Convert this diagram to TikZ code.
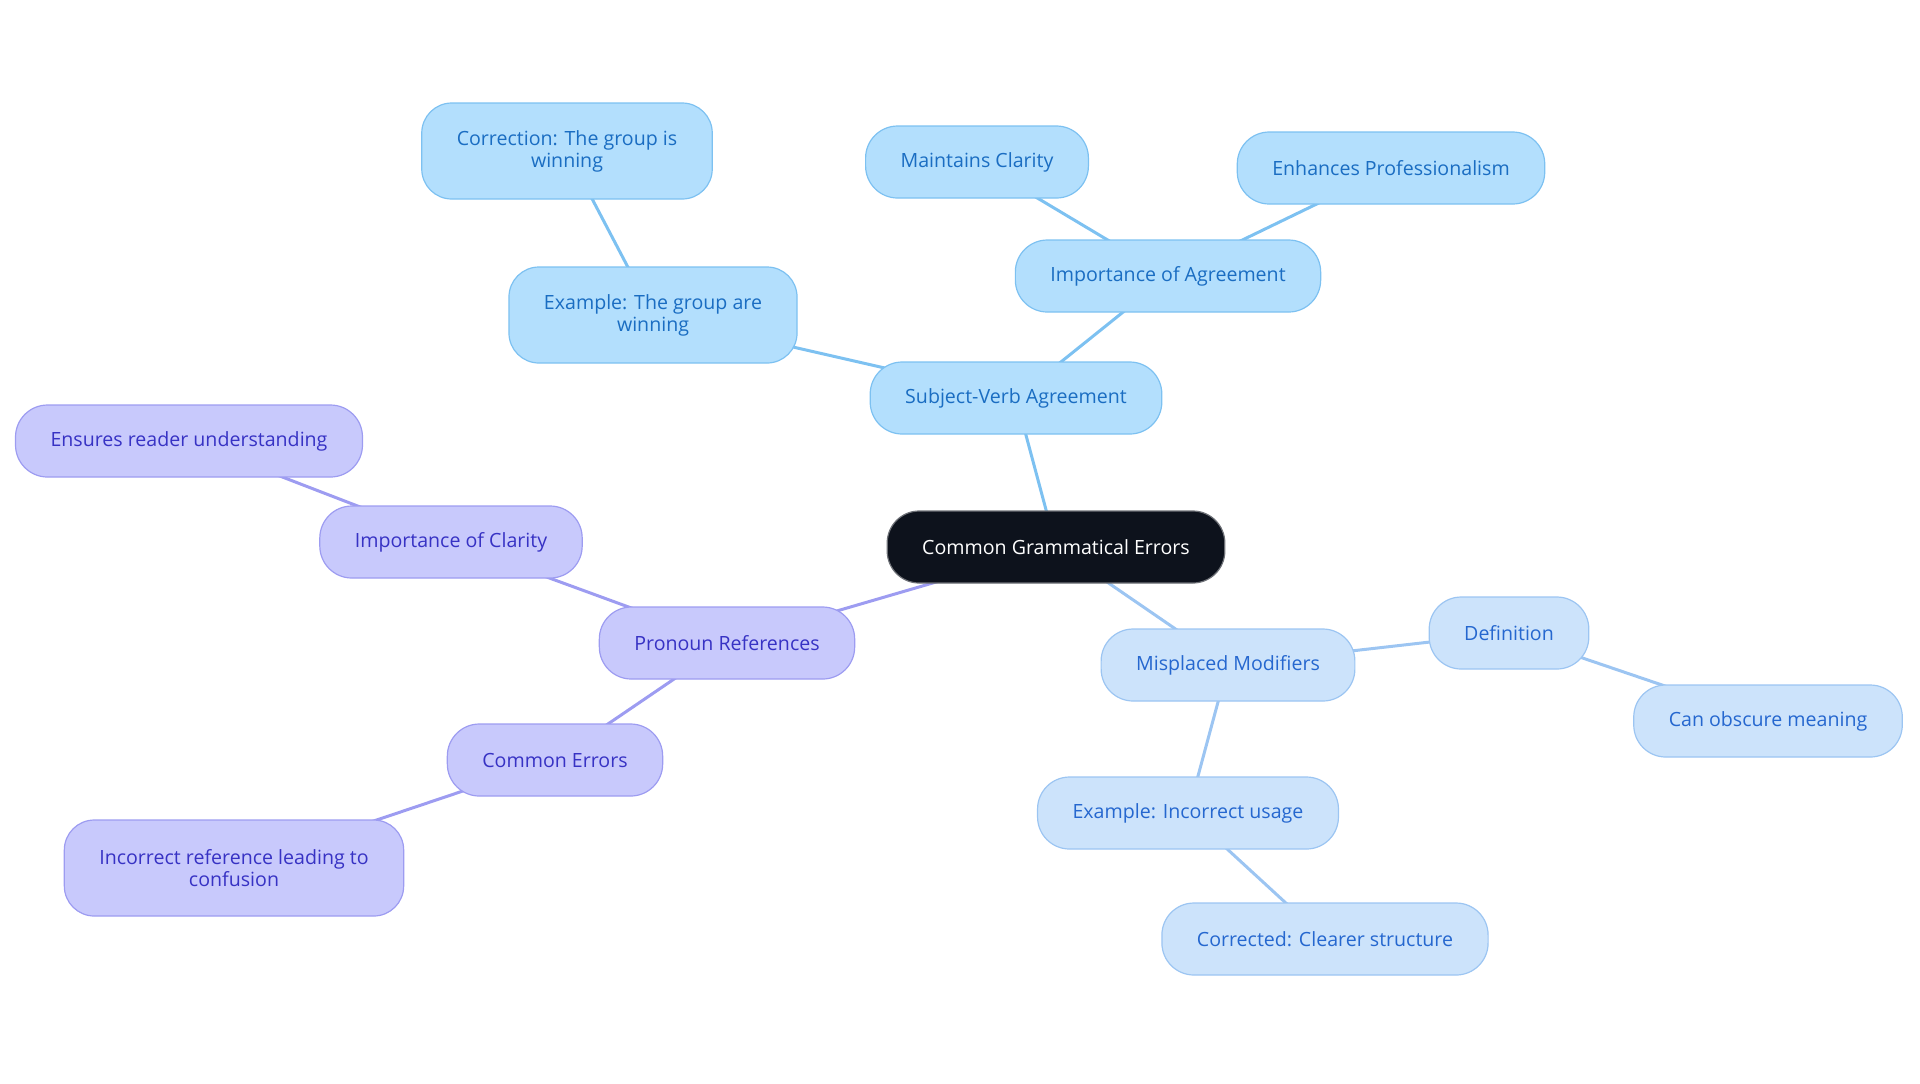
\documentclass[tikz,border=0pt]{standalone}
\usepackage{fontspec}
\setmainfont{Open Sans}
\usepackage{xcolor}
\usepackage{tikz}
\usetikzlibrary{backgrounds}
\definecolor{ink}{HTML}{0D121C}
\definecolor{skyfill}{HTML}{B3DFFD}
\definecolor{skyline}{HTML}{7DC1F1}
\definecolor{skytext}{HTML}{1A6DC2}
\definecolor{palefill}{HTML}{CCE3FB}
\definecolor{paleline}{HTML}{9CC5F2}
\definecolor{paletext}{HTML}{2567CF}
\definecolor{lilacfill}{HTML}{C8C9FC}
\definecolor{lilacline}{HTML}{9D9CF1}
\definecolor{lilactext}{HTML}{3732C4}

\begin{document}
\begin{tikzpicture}[x=0.5pt, y=-0.5pt,
    topic/.style={rounded corners=16pt, inner xsep=17.5pt, minimum height=36pt,
        outer sep=0pt, align=center, font=\fontsize{9.8}{11}\selectfont, line width=0.6pt},
    root/.style={topic, fill=ink, draw=ink!60, text=white},
    sky/.style={topic, fill=skyfill, draw=skyline, text=skytext},
    pale/.style={topic, fill=palefill, draw=paleline, text=paletext},
    lilac/.style={topic, fill=lilacfill, draw=lilacline, text=lilactext},
    tall/.style={minimum height=48pt, rounded corners=15pt},
    link/.style={line width=1.5pt}]
    \useasboundingbox (0,0) rectangle (1920,1083);

    % Centre
    \node[root] (errors) at (1056,547) {Common Grammatical Errors};

    % Subject-verb branch
    \node[sky] (agree) at (1016,398) {Subject-Verb Agreement};
    \node[sky, tall] (groupare) at (653,315) {Example: The group are\\winning};
    \node[sky, tall] (groupis) at (567,151) {Correction: The group is\\winning};
    \node[sky] (importagree) at (1168,276) {Importance of Agreement};
    \node[sky] (clarity) at (977,162) {Maintains Clarity};
    \node[sky] (profess) at (1391,168) {Enhances Professionalism};

    % Pronoun branch
    \node[lilac] (pronoun) at (727,643) {Pronoun References};
    \node[lilac] (importclar) at (451,542) {Importance of Clarity};
    \node[lilac] (reader) at (189,441) {Ensures reader understanding};
    \node[lilac] (commonerr) at (555,760) {Common Errors};
    \node[lilac, tall] (confusion) at (234,868) {Incorrect reference leading to\\confusion};

    % Modifier branch
    \node[pale] (modif) at (1228,665) {Misplaced Modifiers};
    \node[pale] (define) at (1509,633) {Definition};
    \node[pale] (obscure) at (1768,721) {Can obscure meaning};
    \node[pale] (usage) at (1188,813) {Example: Incorrect usage};
    \node[pale] (clearer) at (1325,939) {Corrected: Clearer structure};

    % Links, behind the boxes
    \begin{scope}[on background layer]
    \draw[link, skyline] (errors.center) -- (agree.center);
    \draw[link, skyline] (agree.center) -- (groupare.center);
    \draw[link, skyline] (groupare.center) -- (groupis.center);
    \draw[link, skyline] (agree.center) -- (importagree.center);
    \draw[link, skyline] (importagree.center) -- (clarity.center);
    \draw[link, skyline] (importagree.center) -- (profess.center);
    \draw[link, lilacline] (errors.center) -- (pronoun.center);
    \draw[link, lilacline] (pronoun.center) -- (importclar.center);
    \draw[link, lilacline] (importclar.center) -- (reader.center);
    \draw[link, lilacline] (pronoun.center) -- (commonerr.center);
    \draw[link, lilacline] (commonerr.center) -- (confusion.center);
    \draw[link, paleline] (errors.center) -- (modif.center);
    \draw[link, paleline] (modif.center) -- (define.center);
    \draw[link, paleline] (define.center) -- (obscure.center);
    \draw[link, paleline] (modif.center) -- (usage.center);
    \draw[link, paleline] (usage.center) -- (clearer.center);
    \end{scope}
\end{tikzpicture}
\end{document}
